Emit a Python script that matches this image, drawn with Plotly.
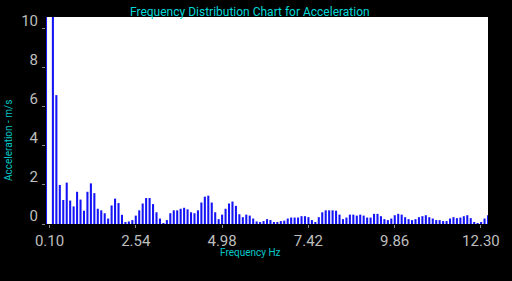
import plotly.graph_objects as go

# frequency bins (Hz): k * 12.5/128, k = 0..128
bin_width = 12.5 / 128
freqs = [k * bin_width for k in range(129)]

# acceleration amplitudes (m/s), k = 0..128
accel = [
    15.0, 0.0,
    14.0, 6.6, 2.0, 1.23, 2.12, 1.2, 0.9, 1.65, 1.25, 0.68, 1.65, 2.08, 1.58, 0.78,
    0.7, 0.55, 0.28, 0.95, 1.3, 1.07, 0.47, 0.1, 0.13, 0.2,
    0.43, 0.7, 1.05, 1.33, 1.33, 1.02, 0.6, 0.28, 0.05, 0.2, 0.55, 0.7, 0.7, 0.78,
    0.83, 0.75, 0.6, 0.55, 0.7, 1.1, 1.4, 1.45, 1.1, 0.6, 0.25,
    0.48, 0.78, 1.05, 1.15, 0.93, 0.5, 0.35, 0.48, 0.43, 0.28, 0.13, 0.08, 0.15,
    0.25, 0.2, 0.08, 0.08, 0.15, 0.17, 0.28, 0.33, 0.33, 0.33, 0.4, 0.4,
    0.35, 0.2, 0.08, 0.35, 0.6, 0.7, 0.7, 0.7, 0.68, 0.48, 0.25, 0.33, 0.48, 0.48,
    0.43, 0.48, 0.43, 0.33, 0.33, 0.52, 0.52, 0.4, 0.25, 0.2, 0.28, 0.45,
    0.52, 0.48, 0.35, 0.25, 0.2, 0.25, 0.35, 0.4, 0.45, 0.35, 0.28, 0.2, 0.2, 0.15,
    0.15, 0.28, 0.35, 0.3, 0.33, 0.4, 0.45, 0.3, 0.08, 0.02, 0.08, 0.28, 0.45,
]

x_ticks = [0.10, 2.54, 4.98, 7.42, 9.86, 12.30]
x_tick_labels = ["0.10", "2.54", "4.98", "7.42", "9.86", "12.30"]
y_ticks = [0, 2, 4, 6, 8, 10]
y_tick_labels = ["0", "2", "4", "6", "8", "10"]

W, H = 512, 281
L, R, T, B = 46, 12, 12, 57
pw, ph = W - L - R, H - T - B

fig = go.Figure(go.Bar(
    x=freqs, y=accel, marker=dict(color="#1414F5", line=dict(width=0)),
    width=bin_width * 0.6,
))

fig.update_layout(
    width=W, height=H,
    margin=dict(l=L, r=R, t=T, b=B),
    paper_bgcolor="black", plot_bgcolor="white",
    showlegend=False,
    font=dict(family="Roboto", color="#BEBEBE"),
    xaxis=dict(range=[0, 12.5], tickvals=x_ticks, ticktext=x_tick_labels,
               ticks="outside", ticklen=3, tickcolor="#888888",
               tickfont=dict(size=15, color="#BEBEBE"),
               ticklabelstandoff=0,
               showgrid=False, zeroline=False, showline=False,
               fixedrange=True),
    yaxis=dict(range=[0, 10.6], tickvals=y_ticks, ticktext=y_tick_labels,
               ticks="outside", ticklen=3, tickcolor="#888888",
               tickfont=dict(size=15, color="#BEBEBE"),
               ticklabelshift=-8, ticklabelstandoff=1,
               showgrid=False, zeroline=False, showline=False,
               fixedrange=True),
    annotations=[
        dict(text="Frequency Distribution Chart for Acceleration",
             xref="paper", yref="paper",
             x=(256 - L) / pw, y=(H - B - 7) / ph,
             xanchor="center", yanchor="middle", showarrow=False,
             font=dict(family="Roboto", size=12, color="#00D8D8")),
        dict(text="Frequency Hz",
             xref="paper", yref="paper",
             x=(256 - L) / pw, y=(H - B - 253) / ph,
             xanchor="center", yanchor="middle", showarrow=False,
             font=dict(family="Roboto", size=10, color="#00C8C8")),
        dict(text="Acceleration - m/s",
             xref="paper", yref="paper",
             x=(7 - L) / pw, y=(H - B - 139) / ph,
             xanchor="center", yanchor="middle", showarrow=False,
             textangle=-90,
             font=dict(family="Roboto", size=10, color="#00C8C8")),
    ],
)

fig.write_html("out.html")
